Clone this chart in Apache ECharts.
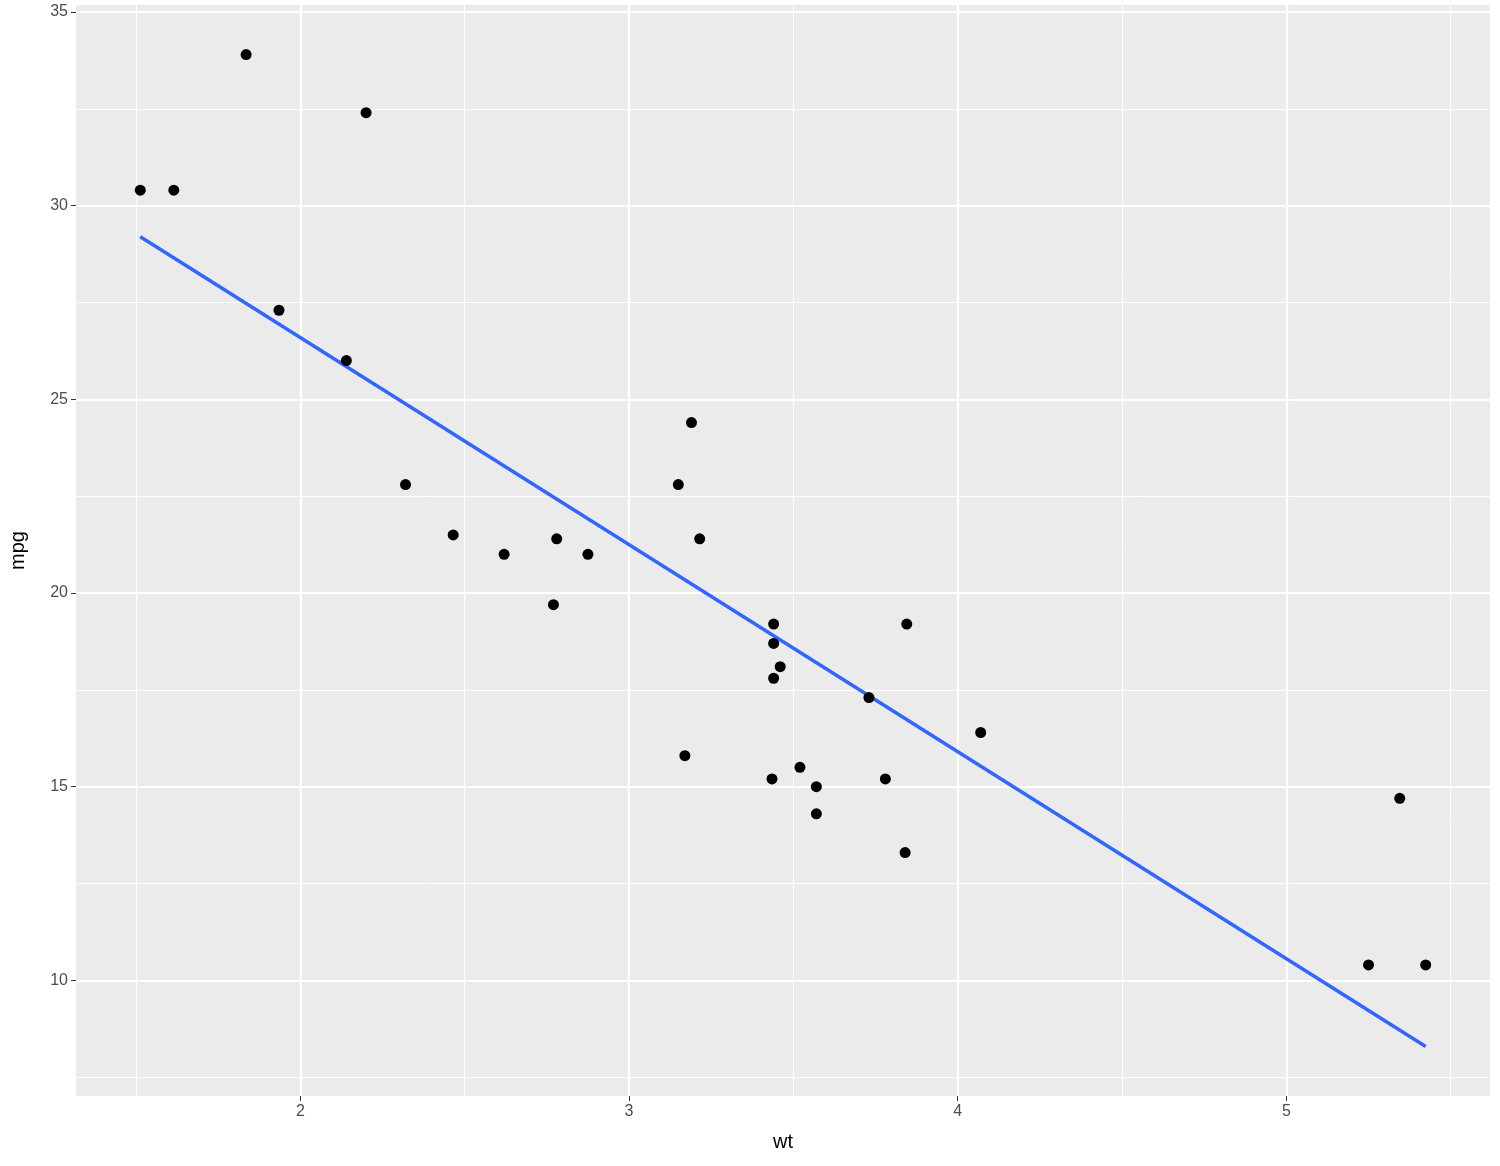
<!DOCTYPE html>
<html>
<head>
<meta charset="utf-8">
<script src="https://cdn.jsdelivr.net/npm/echarts@6/dist/echarts.min.js"></script>
<style>html,body{margin:0;padding:0;background:#fff}#c{width:1500px;height:1166px}</style>
</head>
<body>
<div id="c"></div>
<script>
const wt = [2.620,2.875,2.320,3.215,3.440,3.460,3.570,3.190,3.150,3.440,3.440,4.070,3.730,3.780,5.250,5.424,5.345,2.200,1.615,1.835,2.465,3.520,3.435,3.840,3.845,1.935,2.140,1.513,3.170,2.770,3.570,2.780];
const mpg = [21.0,21.0,22.8,21.4,18.7,18.1,14.3,24.4,22.8,19.2,17.8,16.4,17.3,15.2,10.4,10.4,14.7,32.4,30.4,33.9,21.5,15.5,15.2,13.3,19.2,27.3,26.0,30.4,15.8,19.7,15.0,21.4];
const fitX = [1.513, 5.424];
const fitY = [29.199, 8.296];
const xMajor = [2, 3, 4, 5];
const xMinor = [1.5, 2.5, 3.5, 4.5, 5.5];
const yMajor = [10, 15, 20, 25, 30, 35];
const yMinor = [7.5, 12.5, 17.5, 22.5, 27.5, 32.5];

const gridLines = [
  ...xMinor.map(v => ({ xAxis: v, lineStyle: { width: 1 } })),
  ...xMajor.map(v => ({ xAxis: v, lineStyle: { width: 2.2 } })),
  ...yMinor.map(v => ({ yAxis: v, lineStyle: { width: 1 } })),
  ...yMajor.map(v => ({ yAxis: v, lineStyle: { width: 2.2 } }))
];

const lbl = { color: '#4D4D4D', fontSize: 16, fontFamily: 'Liberation Sans' };
const chart = echarts.init(document.getElementById('c'));
chart.setOption({
  animation: false,
  grid: { left: 73, right: 10, top: 5, bottom: 70, show: true, backgroundColor: '#EBEBEB', borderWidth: 0 },
  xAxis: {
    type: 'value', min: 1.3174, max: 5.6196,
    name: 'wt', nameLocation: 'middle', nameGap: 36,
    nameTextStyle: { color: '#000', fontSize: 20, fontFamily: 'Liberation Sans' },
    axisLine: { show: false }, splitLine: { show: false },
    axisTick: { show: true, customValues: xMajor, length: 5, lineStyle: { color: '#333' } },
    axisLabel: { ...lbl, customValues: xMajor, margin: 8 }
  },
  yAxis: {
    type: 'value', min: 7.016, max: 35.18,
    name: 'mpg', nameLocation: 'middle', nameGap: 48, nameRotate: 90,
    nameTextStyle: { color: '#000', fontSize: 20, fontFamily: 'Liberation Sans' },
    axisLine: { show: false }, splitLine: { show: false },
    axisTick: { show: true, customValues: yMajor, length: 5, lineStyle: { color: '#333' } },
    axisLabel: { ...lbl, customValues: yMajor, margin: 8 }
  },
  series: [
    {
      type: 'line', data: [], silent: true, z: 0, zlevel: 0,
      markLine: { silent: true, symbol: 'none', label: { show: false }, z: 0,
        lineStyle: { color: '#FFFFFF', type: 'solid' }, data: gridLines }
    },
    {
      type: 'line', symbol: 'none', z: 3, lineStyle: { color: '#3366FF', width: 3.5 },
      data: fitX.map((x, i) => [x, fitY[i]])
    },
    {
      type: 'scatter', symbolSize: 11, z: 5, itemStyle: { color: '#000', opacity: 1 },
      data: wt.map((w, i) => [w, mpg[i]])
    }
  ]
});
</script>
</body>
</html>
